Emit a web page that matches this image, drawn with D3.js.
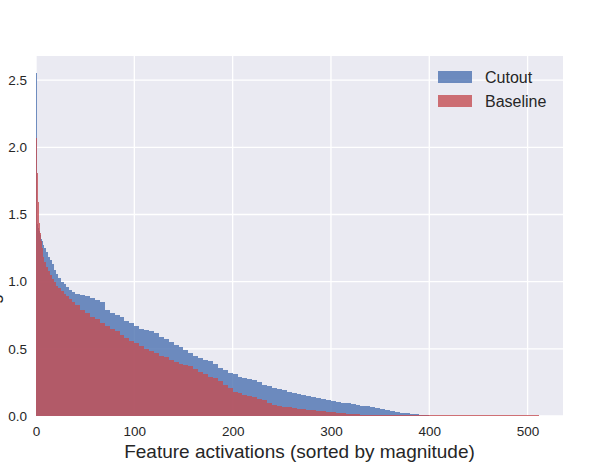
<!DOCTYPE html>
<html><head><meta charset="utf-8">
<script src="https://cdn.jsdelivr.net/npm/d3@7"></script>
<style>body{margin:0;background:#fff;}svg{display:block;font-family:"Liberation Sans",Arial,sans-serif;}</style>
</head><body>
<script>
// rank positions (start index of each step) shared by both series
const ranks = [0,1,2,3,4,5,6,7,8,10,12,14,16,18,20,22,25,28,31,34,37,40,45,50,55,60,65,70,75,80,85,90,95,100,105,110,115,120,125,130,135,140,145,150,155,160,165,170,175,180,185,190,195,200,205,210,215,220,225,230,235,240,245,250,255,260,265,270,275,280,285,290,295,300,305,310,315,320,325,330,335,340,345,350,355,360,365,370,375,380,385,390,395,400,450];
const rankEnd = 512;
const cutout = [2.55,1.43,1.40,1.38,1.35,1.32,1.30,1.27,1.25,1.22,1.18,1.16,1.13,1.09,1.06,1.03,1.00,0.98,0.96,0.94,0.92,0.91,0.90,0.89,0.88,0.86,0.85,0.79,0.77,0.75,0.74,0.71,0.69,0.67,0.65,0.64,0.63,0.62,0.59,0.57,0.55,0.53,0.51,0.49,0.47,0.45,0.43,0.42,0.41,0.39,0.36,0.34,0.32,0.31,0.29,0.28,0.275,0.27,0.25,0.23,0.22,0.21,0.20,0.19,0.18,0.17,0.165,0.16,0.15,0.14,0.135,0.13,0.12,0.11,0.105,0.10,0.095,0.09,0.085,0.078,0.072,0.067,0.06,0.053,0.045,0.037,0.031,0.026,0.021,0.017,0.013,0.009,0.006,0,0];
const baseline = [2.07,1.81,1.59,1.44,1.36,1.30,1.25,1.18,1.15,1.11,1.08,1.05,1.02,1.00,0.97,0.95,0.93,0.91,0.89,0.87,0.85,0.83,0.79,0.77,0.74,0.72,0.69,0.67,0.645,0.63,0.60,0.58,0.56,0.54,0.52,0.50,0.485,0.47,0.45,0.44,0.42,0.40,0.39,0.38,0.37,0.35,0.33,0.31,0.29,0.28,0.26,0.23,0.21,0.18,0.17,0.16,0.15,0.14,0.13,0.12,0.10,0.08,0.075,0.07,0.065,0.058,0.055,0.05,0.047,0.044,0.04,0.037,0.032,0.027,0.024,0.02,0.017,0.015,0.013,0.01,0.008,0.007,0.006,0.005,0.004,0.004,0.003,0.003,0.003,0.002,0.002,0.002,0.002,0.002,0.002];
const xTicks = [0,100,200,300,400,500];
const yTicks = [0.0,0.5,1.0,1.5,2.0,2.5];
const seriesNames = ["Cutout","Baseline"];
const seriesColors = ["#4C72B0","#C44E52"];

const W = 598, H = 469;
const m = {left:36, right:35, top:56, bottom:53};
const svg = d3.select("body").append("svg").attr("width",W).attr("height",H);
const x = d3.scaleLinear().domain([0,536]).range([m.left, W-m.right]);
const y = d3.scaleLinear().domain([0,2.68]).range([H-m.bottom, m.top]);

svg.append("rect").attr("x",m.left).attr("y",m.top)
  .attr("width",W-m.left-m.right).attr("height",H-m.top-m.bottom).attr("fill","#EAEAF2");

// grid
svg.append("g").selectAll("line").data(xTicks).join("line")
  .attr("x1",d=>x(d)).attr("x2",d=>x(d)).attr("y1",m.top).attr("y2",H-m.bottom)
  .attr("stroke","#fff").attr("stroke-width",1.3);
svg.append("g").selectAll("line").data(yTicks).join("line")
  .attr("y1",d=>y(d)).attr("y2",d=>y(d)).attr("x1",m.left).attr("x2",W-m.right)
  .attr("stroke","#fff").attr("stroke-width",1.3);

function drawSeries(vals, color){
  const data = vals.map((v,i)=>({x0:ranks[i], x1: i+1<ranks.length?ranks[i+1]:rankEnd, v}));
  svg.append("g").selectAll("rect").data(data.filter(d=>d.v>0)).join("rect")
    .attr("x",d=>x(d.x0)).attr("width",d=>x(d.x1)-x(d.x0))
    .attr("y",d=>Math.min(y(d.v), y(0)-0.6)).attr("height",d=>Math.max(y(0)-y(d.v),0.6))
    .attr("fill",color).attr("fill-opacity",0.8).attr("shape-rendering","crispEdges");
}
drawSeries(cutout, seriesColors[0]);
drawSeries(baseline, seriesColors[1]);

// axes (labels only)
const xAxis = svg.append("g").attr("transform",`translate(0,${H-m.bottom})`)
  .call(d3.axisBottom(x).tickValues(xTicks).tickFormat(d3.format("d")).tickSize(0).tickPadding(10.5));
const yAxis = svg.append("g").attr("transform",`translate(${m.left},0)`)
  .call(d3.axisLeft(y).tickValues(yTicks).tickFormat(d3.format(".1f")).tickSize(0).tickPadding(9));
[xAxis,yAxis].forEach(a=>{
  a.select(".domain").remove();
  a.selectAll("text").attr("font-size",13.5).attr("fill","#262626").attr("font-family","Liberation Sans, Arial, sans-serif");
});

svg.append("text").attr("x",(m.left+W-m.right)/2).attr("y",458)
  .attr("text-anchor","middle").attr("font-size",19).attr("fill","#262626")
  .text("Feature activations (sorted by magnitude)");
svg.append("text").attr("transform","translate(-1,329) rotate(-90)")
  .attr("text-anchor","start").attr("font-size",18).attr("fill","#262626")
  .text("Magnitude");

// legend
const lg = svg.append("g");
seriesNames.forEach((n,i)=>{
  lg.append("rect").attr("x",438).attr("y",71+i*24).attr("width",34).attr("height",12)
    .attr("fill",seriesColors[i]).attr("fill-opacity",0.8);
  lg.append("text").attr("x",485).attr("y",83+i*24).attr("font-size",16).attr("fill","#262626").text(n);
});
</script>
</body></html>
